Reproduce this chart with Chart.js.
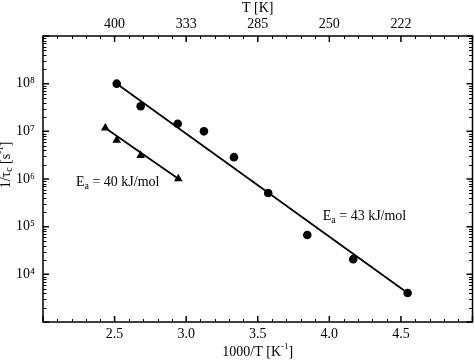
<!DOCTYPE html>
<html>
<head>
<meta charset="utf-8">
<script src="https://cdn.jsdelivr.net/npm/chart.js@4/dist/chart.umd.min.js"></script>
<style>
  html, body { margin: 0; padding: 0; background: #fff; }
</style>
</head>
<body>
<canvas id="chart" width="474" height="360"></canvas>
<script>
// data: 1000/T [1/K] vs 1/tau_c [1/s]
const circleX = [2.515, 2.682, 2.941, 3.124, 3.334, 3.573, 3.846, 4.167, 4.547];
const circleY = [1.0e8, 3.35e7, 1.44e7, 1.0e7, 2.87e6, 5.07e5, 6.7e4, 2.08e4, 4.05e3];
const triX = [2.435, 2.515, 2.682, 2.945];
const triY = [1.18e7, 6.5e6, 3.12e6, 1.01e6];

// fitted Arrhenius lines (end points)
const fit43X = [2.515, 4.547];
const fit43Y = [1.0e8, 4.05e3];
const fit40X = [2.435, 2.945];
const fit40Y = [1.18e7, 1.01e6];

// ticks
const xTicks = [2.5, 3.0, 3.5, 4.0, 4.5];
const xTickLabels = ['2.5', '3.0', '3.5', '4.0', '4.5'];
const topTickLabels = ['400', '333', '285', '250', '222'];
const yTicks = [1e4, 1e5, 1e6, 1e7, 1e8];
const yTickLabels = ['10⁴', '10⁵', '10⁶', '10⁷', '10⁸'];

const SERIF = '"Liberation Serif", "Times New Roman", serif';

function pts(xs, ys) {
    return xs.map(function (x, i) { return { x: x, y: ys[i] }; });
}

// draw a run of text pieces (normal / sub / sup) starting at x
function richWidth(ctx, parts) {
    var w = 0;
    parts.forEach(function (p) {
        ctx.font = p.size + 'px ' + SERIF;
        w += ctx.measureText(p.t).width;
    });
    return w;
}
function drawRich(ctx, parts, x, y) {
    parts.forEach(function (p) {
        ctx.font = p.size + 'px ' + SERIF;
        ctx.fillText(p.t, x, y + (p.dy || 0));
        x += ctx.measureText(p.t).width;
    });
}

const frame = {
    id: 'frame',
    afterDraw(chart) {
        const ctx = chart.ctx;
        const a = chart.chartArea;
        const xs = chart.scales.x;
        const ys = chart.scales.y;
        ctx.save();
        ctx.strokeStyle = '#000';
        ctx.fillStyle = '#000';

        // minor ticks
        ctx.lineWidth = 1;
        ctx.beginPath();
        for (let i = 0; i <= 30; i++) {
            if (i % 5 === 0) continue;
            const px = Math.round(xs.getPixelForValue(2 + i / 10)) + 0.5;
            ctx.moveTo(px, a.bottom); ctx.lineTo(px, a.bottom - 3);
            ctx.moveTo(px, a.top); ctx.lineTo(px, a.top + 3);
        }
        for (let e = 3; e < 9; e++) {
            for (let m = 2; m < 10; m++) {
                const py = Math.round(ys.getPixelForValue(m * Math.pow(10, e))) + 0.5;
                ctx.moveTo(a.left, py); ctx.lineTo(a.left + 3.5, py);
                ctx.moveTo(a.right, py); ctx.lineTo(a.right - 3.5, py);
            }
        }
        ctx.stroke();

        // major ticks
        ctx.lineWidth = 1.5;
        ctx.beginPath();
        for (let i = 0; i <= 6; i++) {
            const px = xs.getPixelForValue(2 + i / 2);
            ctx.moveTo(px, a.bottom); ctx.lineTo(px, a.bottom - 6);
            ctx.moveTo(px, a.top); ctx.lineTo(px, a.top + 6);
        }
        for (let e = 3; e <= 9; e++) {
            const py = ys.getPixelForValue(Math.pow(10, e));
            ctx.moveTo(a.left, py); ctx.lineTo(a.left + 6, py);
            ctx.moveTo(a.right, py); ctx.lineTo(a.right - 6, py);
        }
        ctx.stroke();

        ctx.strokeRect(a.left, a.top, a.right - a.left, a.bottom - a.top);

        // axis titles
        ctx.textBaseline = 'middle';
        var cx = (a.left + a.right) / 2;
        var top = [{ t: 'T [K]', size: 14 }];
        drawRich(ctx, top, cx - richWidth(ctx, top) / 2, 8);

        var bottom = [{ t: '1000/T [K', size: 14 }, { t: '-1', size: 9, dy: -5 }, { t: ']', size: 14 }];
        drawRich(ctx, bottom, cx - richWidth(ctx, bottom) / 2, 352);

        var left = [{ t: '1/τ', size: 14 }, { t: 'c', size: 10, dy: 3 }, { t: ' [s', size: 14 },
                    { t: '-1', size: 9, dy: -5 }, { t: ']', size: 14 }];
        ctx.save();
        ctx.translate(6, 165);
        ctx.rotate(-Math.PI / 2);
        drawRich(ctx, left, -richWidth(ctx, left) / 2, 0);
        ctx.restore();

        // activation energy notes
        ctx.textBaseline = 'alphabetic';
        [[2.23, 7.0e5, '40'], [3.954, 1.36e5, '43']].forEach(function (n) {
            drawRich(ctx, [{ t: 'E', size: 14 }, { t: 'a', size: 10, dy: 3 },
                           { t: ' = ' + n[2] + ' kJ/mol', size: 14 }],
                     xs.getPixelForValue(n[0]), ys.getPixelForValue(n[1]));
        });
        ctx.restore();
    }
};

const tickFont = { family: SERIF, size: 14 };

function fixHeight(h) {
    return function (s) { s.height = h; s.paddingLeft = 0; s.paddingRight = 0; };
}

new Chart(document.getElementById('chart'), {
    type: 'scatter',
    data: {
        datasets: [
            {
                data: pts(fit43X, fit43Y), showLine: true, borderColor: '#000',
                borderWidth: 1.8, pointRadius: 0
            },
            {
                data: pts(fit40X, fit40Y), showLine: true, borderColor: '#000',
                borderWidth: 1.8, pointRadius: 0
            },
            {
                data: pts(circleX, circleY), pointStyle: 'circle', pointRadius: 4.3,
                backgroundColor: '#000', borderColor: '#000', borderWidth: 0
            },
            {
                data: pts(triX, triY), pointStyle: 'triangle', pointRadius: 5,
                backgroundColor: '#000', borderColor: '#000', borderWidth: 0
            }
        ]
    },
    options: {
        responsive: false,
        animation: false,
        layout: { autoPadding: false, padding: { right: 1.5 } },
        plugins: { legend: { display: false }, tooltip: { enabled: false } },
        scales: {
            x: {
                type: 'linear', position: 'bottom', min: 2, max: 5,
                grid: { display: false, drawTicks: false }, border: { display: false },
                afterBuildTicks: function (s) { s.ticks = xTicks.map(function (v) { return { value: v }; }); },
                afterFit: fixHeight(38),
                ticks: {
                    font: tickFont, color: '#000', padding: 4, maxRotation: 0, autoSkip: false,
                    callback: function (v, i) { return xTickLabels[i]; }
                }
            },
            x2: {
                type: 'linear', position: 'top', min: 2, max: 5,
                grid: { display: false, drawTicks: false }, border: { display: false },
                afterBuildTicks: function (s) { s.ticks = xTicks.map(function (v) { return { value: v }; }); },
                afterFit: fixHeight(36),
                ticks: {
                    font: tickFont, color: '#000', padding: 3, maxRotation: 0, autoSkip: false,
                    callback: function (v, i) { return topTickLabels[i]; }
                }
            },
            y: {
                type: 'logarithmic', position: 'left', min: 1e3, max: 1e9,
                grid: { display: false, drawTicks: false }, border: { display: false },
                afterBuildTicks: function (s) { s.ticks = yTicks.map(function (v) { return { value: v }; }); },
                afterFit: function (s) { s.width = 43; s.paddingTop = 0; s.paddingBottom = 0; },
                ticks: {
                    font: tickFont, color: '#000', padding: 8, autoSkip: false,
                    callback: function (v, i) { return yTickLabels[i]; }
                }
            }
        }
    },
    plugins: [frame]
});
</script>
</body>
</html>
